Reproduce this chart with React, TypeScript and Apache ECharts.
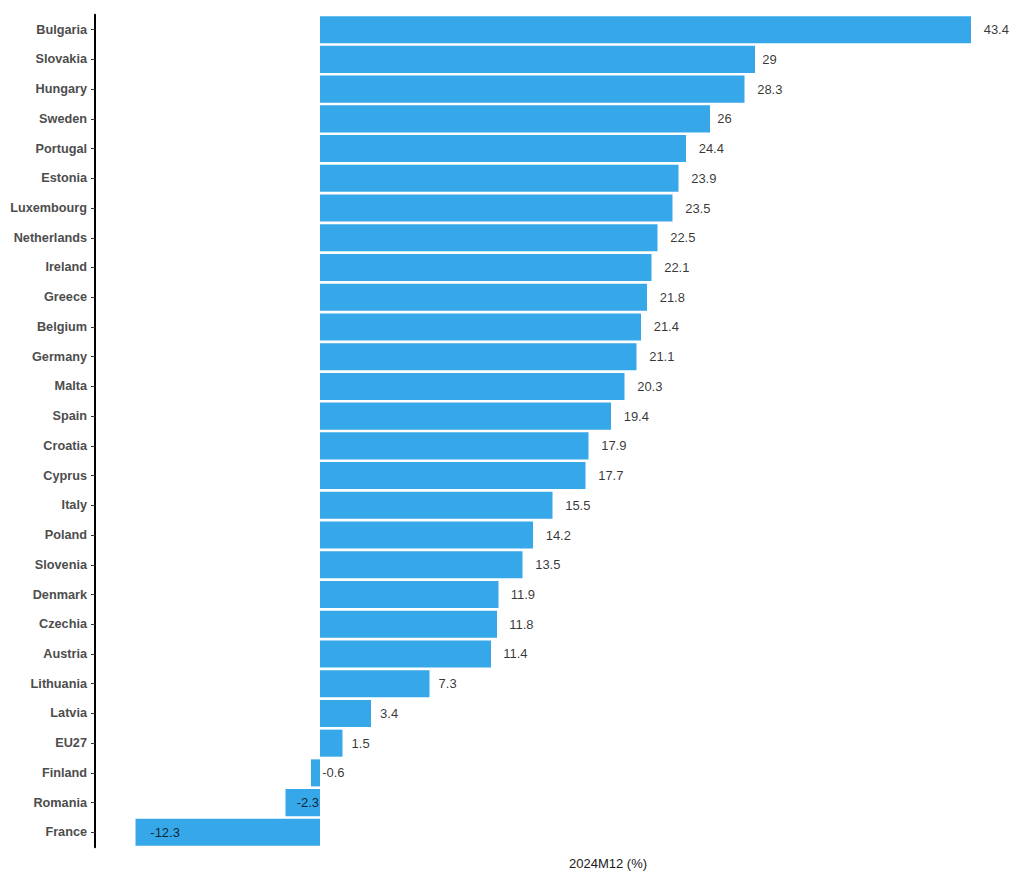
import React, { useEffect, useRef } from "react";
import * as echarts from "echarts";

const countries = [
  "Bulgaria", "Slovakia", "Hungary", "Sweden", "Portugal", "Estonia", "Luxembourg",
  "Netherlands", "Ireland", "Greece", "Belgium", "Germany", "Malta", "Spain",
  "Croatia", "Cyprus", "Italy", "Poland", "Slovenia", "Denmark", "Czechia",
  "Austria", "Lithuania", "Latvia", "EU27", "Finland", "Romania", "France",
];
const values = [
  43.4, 29, 28.3, 26, 24.4, 23.9, 23.5, 22.5, 22.1, 21.8, 21.4, 21.1, 20.3, 19.4,
  17.9, 17.7, 15.5, 14.2, 13.5, 11.9, 11.8, 11.4, 7.3, 3.4, 1.5, -0.6, -2.3, -12.3,
];
const axisTitle = "2024M12 (%)";

const LABEL_FONT = "13px 'Liberation Sans', Arial, sans-serif";

function measure(text: string): number {
  const c = document.createElement("canvas");
  const ctx = c.getContext("2d");
  if (!ctx) return text.length * 7;
  ctx.font = LABEL_FONT;
  return ctx.measureText(text).width;
}

export default function App() {
  const ref = useRef<HTMLDivElement>(null);
  useEffect(() => {
    if (!ref.current) return;
    const chart = echarts.init(ref.current, undefined, { renderer: "svg" });
    const labelData = values.map((v, i) => {
      const txt = String(v);
      return {
        value: [v, countries[i]],
        label: { distance: measure(txt) * 0.5, formatter: txt },
      };
    });
    chart.setOption({
      animation: false,
      backgroundColor: "#ffffff",
      grid: { left: 95, right: 11, top: 14.8, bottom: 26.8, containLabel: false },
      xAxis: {
        type: "value",
        min: -15,
        max: 46.2,
        axisLine: { show: false },
        axisTick: { show: false },
        axisLabel: { show: false },
        splitLine: { show: false },
      },
      yAxis: {
        type: "category",
        data: countries,
        inverse: true,
        axisLine: { show: true, onZero: false, lineStyle: { color: "#000000", width: 2 } },
        axisTick: { show: true, length: 4, alignWithLabel: true, lineStyle: { color: "#333333", width: 1 } },
        axisLabel: {
          margin: 8,
          color: "#4d4d4d",
          fontWeight: "bold",
          fontSize: 12.7,
          fontFamily: "'Liberation Sans', Arial, sans-serif",
        },
        splitLine: { show: false },
      },
      series: [
        {
          type: "bar",
          data: values,
          barCategoryGap: "9%",
          itemStyle: { color: "#36a7e9" },
          silent: true,
        },
        {
          type: "scatter",
          data: labelData,
          symbolSize: 0,
          silent: true,
          itemStyle: { color: "#000000" },
          label: {
            show: true,
            position: "right",
            color: "#000000",
            textBorderWidth: 0,
            fontSize: 13,
            fontFamily: "'Liberation Sans', Arial, sans-serif",
          },
        },
      ],
      graphic: [
        {
          type: "text",
          x: 608,
          y: 863,
          style: {
            text: axisTitle,
            align: "center",
            verticalAlign: "middle",
            fill: "#1a1a1a",
            fontSize: 13,
            fontFamily: "'Liberation Sans', Arial, sans-serif",
          },
        },
      ],
    });
    return () => chart.dispose();
  }, []);
  return (
    <div
      ref={ref}
      style={{ position: "absolute", left: 0, top: 0, width: 1024, height: 874 }}
    />
  );
}
